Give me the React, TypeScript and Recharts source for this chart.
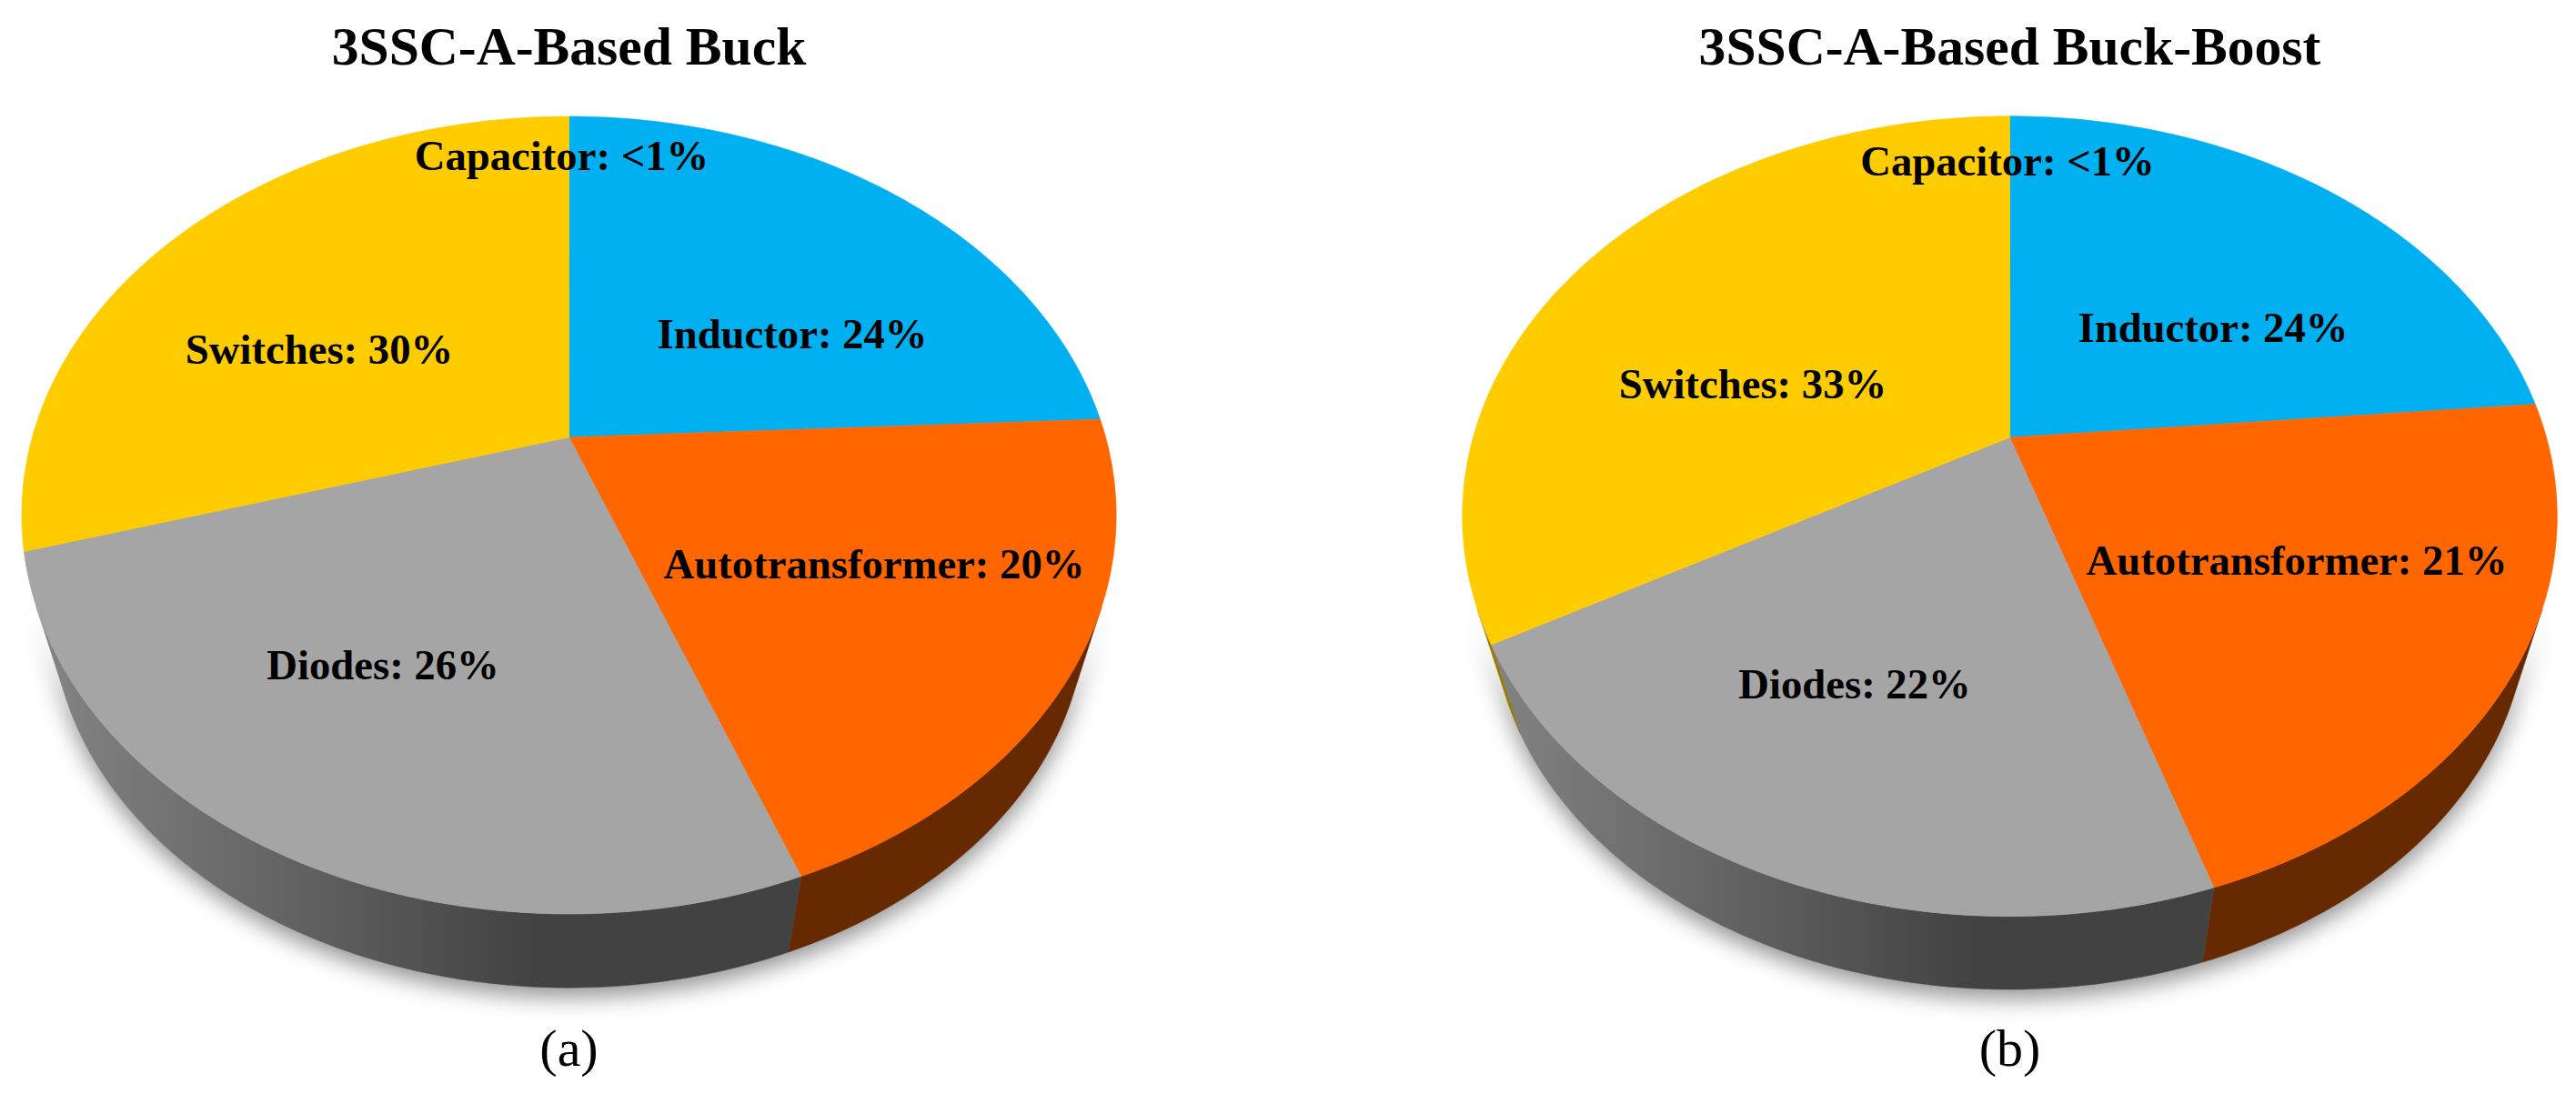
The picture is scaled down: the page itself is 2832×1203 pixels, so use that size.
import { Pie, PieChart, Cell } from 'recharts'

const sliceNames = ['Inductor', 'Autotransformer', 'Diodes', 'Switches', 'Capacitor']
const buckValues = [24.25, 20, 26.2, 29.52, 0.03]
const buckBoostValues = [23.6, 21.4, 21.9, 33.07, 0.03]
const buckLabels = ['24%', '20%', '26%', '30%', '<1%']
const buckBoostLabels = ['24%', '21%', '22%', '33%', '<1%']

const topColors = ['#00b0f0', '#ff6600', '#a5a5a5', '#ffcc00', '#ffcc00']
const wallColors = ['#006a90', '#662900', 'url(#GRAD)', '#997a00', '#997a00']

// tilted disc: k is the perspective strength, s/vanishY shrink the lower rim
const leftDisc = { rx: 590, ry: 421.7, k: 0.1957, s: 0.945, vanishY: 2480 }
const rightDisc = { rx: 590, ry: 422.9, k: 0.1971, s: 0.945, vanishY: 2467 }

// text centre x and baseline y of the slice labels, per panel
const leftLabelPos = [[871, 383], [961, 636], [421, 747], [351, 400], [617.5, 187]]
const rightLabelPos = [[1017, 376], [1109, 632], [623, 768], [511, 438], [791, 193]]

const FONT = '"Liberation Serif", serif'

type Disc = typeof leftDisc

function project(d: Disc, cx: number, cy: number, deg: number) {
  const u = Math.cos((deg * Math.PI) / 180)
  const v = Math.sin((deg * Math.PI) / 180)
  const w = 1 + d.k * v
  return [cx + (d.rx * u) / w, cy - (d.ry * v) / w]
}

function lower(d: Disc, cx: number, p: number[]) {
  return [cx + d.s * (p[0] - cx), d.vanishY + d.s * (p[1] - d.vanishY)]
}

function arc(from: number, to: number) {
  const steps = Math.max(2, Math.ceil(Math.abs(from - to)))
  return Array.from({ length: steps + 1 }, (_, i) => from + ((to - from) * i) / steps)
}

const toPath = (pts: number[][]) => 'M' + pts.map((p) => `${p[0].toFixed(2)},${p[1].toFixed(2)}`).join('L') + 'Z'

// angle on the rim where the side wall starts to show
function wallLimit(d: Disc, cy: number) {
  const topY = cy - d.ry / (1 + d.k)
  const botY = cy + d.ry / (1 - d.k)
  const midY = (topY + botY) / 2
  const half = (botY - topY) / 2
  const y = midY + (half * half) / (d.vanishY - midY) - cy
  const v = -y / (d.ry + y * d.k)
  return (Math.asin(v) * 180) / Math.PI
}

function topShape(d: Disc) {
  return (props: any) => {
    const { cx, cy, startAngle, endAngle, fill } = props
    const pts = [[cx, cy], ...arc(startAngle, endAngle).map((a) => project(d, cx, cy, a))]
    return <path d={toPath(pts)} fill={fill} stroke={fill} strokeWidth={0.6} />
  }
}

function wallShape(d: Disc) {
  return (props: any) => {
    const { cx, cy, startAngle, endAngle, fill } = props
    const limit = wallLimit(d, cy)
    const hi = Math.min(startAngle, limit)
    const lo = Math.max(endAngle, -180 - limit)
    if (hi <= lo) return <g />
    const rim = arc(hi, lo).map((a) => project(d, cx, cy, a))
    const under = rim.map((p) => lower(d, cx, p)).reverse()
    return <path d={toPath([...rim, ...under])} fill={fill} stroke={fill} strokeWidth={0.5} />
  }
}

interface PanelProps {
  id: string
  title: string
  caption: string
  values: number[]
  labels: string[]
  disc: Disc
  labelPos: number[][]
  cx: number
  cy: number
  left: number
}

function Panel({ id, title, caption, values, labels, disc, labelPos, cx, cy, left }: PanelProps) {
  const data = sliceNames.map((name, i) => ({ name, value: values[i] }))
  const gradId = `wallGrad-${id}`
  return (
    <div style={{ position: 'absolute', left, top: 0 }}>
      <PieChart width={1416} height={1203} margin={{ top: 0, right: 0, bottom: 0, left: 0 }}>
        <defs>
          <linearGradient id={gradId} gradientUnits="userSpaceOnUse" x1={cx - 580} y1={0} x2={cx - 40} y2={0}>
            <stop offset="0%" stopColor="#848484" />
            <stop offset="100%" stopColor="#424242" />
          </linearGradient>
        </defs>
        <Pie
          className="wall-pie"
          data={data}
          dataKey="value"
          cx={cx}
          cy={cy}
          outerRadius={590}
          startAngle={90}
          endAngle={-270}
          paddingAngle={0}
          stroke="none"
          isAnimationActive={false}
          shape={wallShape(disc)}
        >
          {data.map((_, i) => (
            <Cell key={i} fill={wallColors[i].replace('GRAD', gradId)} />
          ))}
        </Pie>
        <Pie
          data={data}
          dataKey="value"
          cx={cx}
          cy={cy}
          outerRadius={590}
          startAngle={90}
          endAngle={-270}
          paddingAngle={0}
          stroke="none"
          isAnimationActive={false}
          shape={topShape(disc)}
          labelLine={false}
          label={(p: any) => (
            <text
              key={p.index}
              x={labelPos[p.index][0]}
              y={labelPos[p.index][1]}
              textAnchor="middle"
              fontFamily={FONT}
              fontWeight="bold"
              fontSize={46.7}
              fill="#000"
            >
              {`${sliceNames[p.index]}: ${labels[p.index]}`}
            </text>
          )}
        >
          {data.map((_, i) => (
            <Cell key={i} fill={topColors[i]} />
          ))}
        </Pie>
        <text x={cx} y={71} textAnchor="middle" fontFamily={FONT} fontWeight="bold" fontSize={59.6} fill="#000">
          {title}
        </text>
        <text x={cx} y={1172} textAnchor="middle" fontFamily={FONT} fontSize={58} fill="#000">
          {caption}
        </text>
      </PieChart>
    </div>
  )
}

export default function App() {
  return (
    <div style={{ position: 'absolute', left: 0, top: 0, width: 2832, height: 1203, background: '#fff', overflow: 'hidden' }}>
      <style>{`.wall-pie { filter: drop-shadow(0 10px 12px rgba(0,0,0,0.42)); }`}</style>
      <Panel
        id="a"
        title="3SSC-A-Based Buck"
        caption="(a)"
        values={buckValues}
        labels={buckLabels}
        disc={leftDisc}
        labelPos={leftLabelPos}
        cx={625.5}
        cy={480.7}
        left={0}
      />
      <Panel
        id="b"
        title="3SSC-A-Based Buck-Boost"
        caption="(b)"
        values={buckBoostValues}
        labels={buckBoostLabels}
        disc={rightDisc}
        labelPos={rightLabelPos}
        cx={793.5}
        cy={481}
        left={1416}
      />
    </div>
  )
}
